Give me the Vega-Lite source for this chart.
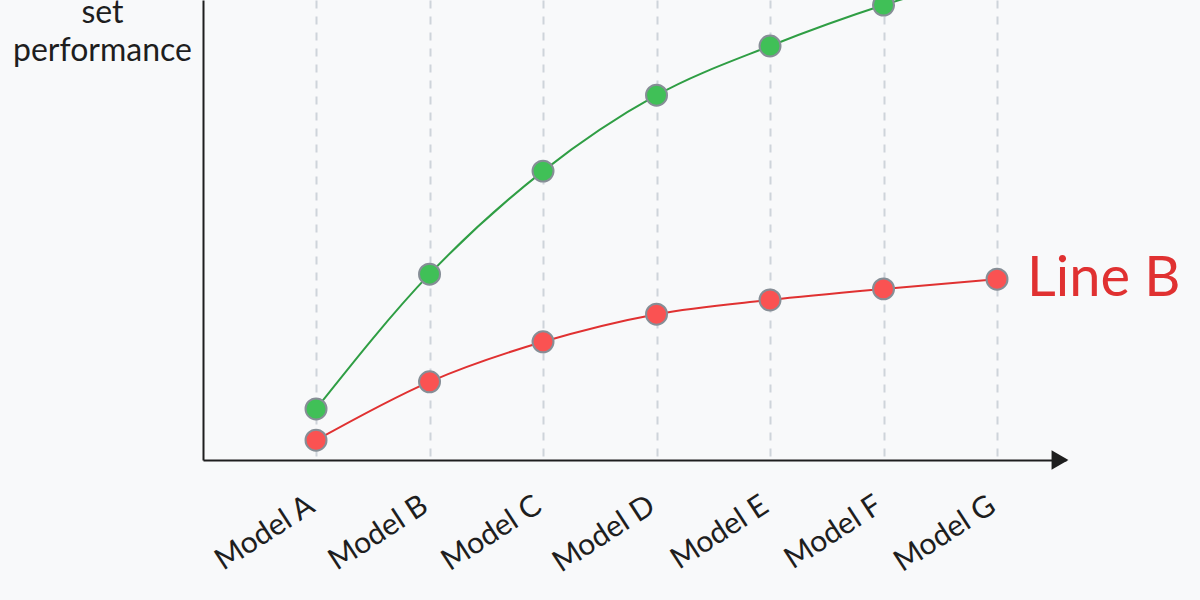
{
  "$schema": "https://vega.github.io/schema/vega-lite/v6.json",
  "autosize": "none",
  "width": 863,
  "height": 460,
  "padding": {"left": 203, "top": 0, "right": 134, "bottom": 140},
  "background": "#f8f9fa",
  "config": {
    "view": {"stroke": null},
    "font": "Lato"
  },
  "datasets": {
    "perf": [
      {"model": "Model A", "series": "Line A", "value": 11.1},
      {"model": "Model B", "series": "Line A", "value": 40.4},
      {"model": "Model C", "series": "Line A", "value": 62.8},
      {"model": "Model D", "series": "Line A", "value": 79.3},
      {"model": "Model E", "series": "Line A", "value": 90.0},
      {"model": "Model F", "series": "Line A", "value": 98.9},
      {"model": "Model G", "series": "Line A", "value": 106.0},
      {"model": "Model A", "series": "Line B", "value": 4.3},
      {"model": "Model B", "series": "Line B", "value": 17.0},
      {"model": "Model C", "series": "Line B", "value": 25.7},
      {"model": "Model D", "series": "Line B", "value": 31.7},
      {"model": "Model E", "series": "Line B", "value": 34.8},
      {"model": "Model F", "series": "Line B", "value": 37.2},
      {"model": "Model G", "series": "Line B", "value": 39.3}
    ],
    "arrow": [{"label": "axis arrow"}]
  },
  "layer": [
    {
      "data": {"name": "perf"},
      "mark": {"type": "line", "interpolate": "monotone", "strokeWidth": 2, "clip": true},
      "encoding": {
        "x": {
          "field": "model", "type": "ordinal",
          "scale": {"type": "point", "padding": 0.8018, "align": 0.621},
          "axis": {
            "title": null,
            "domainColor": "#1e1e1e", "domainWidth": 2,
            "ticks": false,
            "grid": true, "gridDash": [8, 8], "gridColor": "#ced4da", "gridWidth": 2,
            "labelAngle": -33, "labelAlign": "right", "labelBaseline": "alphabetic",
            "labelFontSize": 30, "labelColor": "#1e1e1e", "labelPadding": 50, "labelDx": 20
          }
        },
        "y": {
          "field": "value", "type": "quantitative",
          "scale": {"domain": [0, 100], "nice": false, "zero": true},
          "axis": {
            "title": ["Test", "set", "performance"],
            "titleAngle": 0, "titleAlign": "center", "titleBaseline": "alphabetic",
            "titleX": -101, "titleY": -16, "titleFontSize": 32, "titleFontWeight": "normal",
            "titleLineHeight": 38, "titleColor": "#1e1e1e",
            "labels": false, "ticks": false, "grid": false,
            "domainColor": "#1e1e1e", "domainWidth": 2
          }
        },
        "color": {
          "field": "series", "type": "nominal",
          "scale": {"domain": ["Line A", "Line B"], "range": ["#2f9e44", "#e03131"]},
          "legend": null
        }
      }
    },
    {
      "data": {"name": "perf"},
      "mark": {"type": "point", "filled": true, "size": 440, "stroke": "#868e96", "strokeWidth": 2, "opacity": 1, "clip": true},
      "encoding": {
        "x": {"field": "model", "type": "ordinal"},
        "y": {"field": "value", "type": "quantitative"},
        "fill": {
          "field": "series", "type": "nominal",
          "scale": {"domain": ["Line A", "Line B"], "range": ["#40c057", "#fa5252"]},
          "legend": null
        }
      }
    },
    {
      "data": {"name": "perf"},
      "transform": [{"filter": "datum.series === 'Line B' && datum.model === 'Model G'"}],
      "mark": {"type": "text", "align": "left", "baseline": "middle", "dx": 30, "fontSize": 56, "color": "#e03131"},
      "encoding": {
        "x": {"field": "model", "type": "ordinal"},
        "y": {"field": "value", "type": "quantitative"},
        "text": {"field": "series"}
      }
    },
    {
      "data": {"name": "arrow"},
      "mark": {"type": "point", "shape": "triangle-right", "filled": true, "size": 380, "color": "#1e1e1e", "opacity": 1},
      "encoding": {
        "x": {"value": {"expr": "width - 6"}},
        "y": {"value": {"expr": "height"}}
      }
    }
  ]
}
